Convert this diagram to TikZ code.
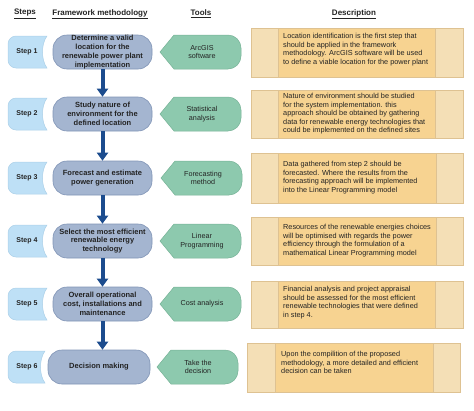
\documentclass[tikz,border=0pt]{standalone}
\usepackage{fontspec}
\setmainfont{Liberation Sans}
\usetikzlibrary{arrows.meta}
\definecolor{stepfill}{RGB}{190,224,246}
\definecolor{stepdraw}{RGB}{172,208,232}
\definecolor{fwfill}{RGB}{164,181,208}
\definecolor{fwdraw}{RGB}{128,148,182}
\definecolor{toolfill}{RGB}{141,201,174}
\definecolor{tooldraw}{RGB}{118,178,150}
\definecolor{descout}{RGB}{244,223,182}
\definecolor{descin}{RGB}{247,211,145}
\definecolor{descdraw}{RGB}{222,194,146}
\definecolor{arrowblue}{RGB}{28,76,142}
\definecolor{txt}{RGB}{35,35,35}
\tikzset{
  header/.style={font=\fontsize{8}{9}\selectfont\bfseries, text=txt, inner sep=0},
  steptab/.style={fill=stepfill, draw=stepdraw, line width=0.5pt},
  steplbl/.style={font=\fontsize{7}{8}\selectfont\bfseries, text=txt, inner sep=0},
  fwbox/.style={fill=fwfill, draw=fwdraw, line width=0.6pt, rounded corners=14pt,
    minimum width=99pt, minimum height=34pt, align=center, inner sep=0,
    font=\fontsize{7.5}{8.8}\selectfont\bfseries, text=txt},
  toolshape/.style={fill=toolfill, draw=tooldraw, line width=0.5pt},
  toollbl/.style={font=\fontsize{7.2}{8.6}\selectfont, text=txt, align=center, inner sep=0},
  descouter/.style={fill=descout, draw=descdraw, line width=0.5pt},
  descinner/.style={fill=descin, draw=descdraw, line width=0.5pt},
  desctext/.style={font=\fontsize{7.3}{8.6}\selectfont, text=txt, align=left,
    anchor=north west, inner sep=0},
  flow/.style={draw=arrowblue, line width=4pt, -{Triangle[width=11pt,length=8pt]}},
}
\begin{document}
\begin{tikzpicture}[x=1pt,y=-1pt]
\useasboundingbox (0,0) rectangle (474,410);
% headers
\node[header] (h1) at (25,14) {\underline{Steps}};
\node[header] (h2) at (100,14) {\underline{Framework methodology}};
\node[header] (h3) at (201,14) {\underline{Tools}};
\node[header] (h4) at (354,14) {\underline{Description}};
% step tabs
\foreach \c/\r/\xr in {52/1/47,114/2/47,178/3/47,241/4/47,304/5/47,367/6/45}{
  \draw[steptab] (16,\c-16) -- (\xr,\c-16) .. controls (\xr-6,\c-8) and (\xr-6,\c+8) .. (\xr,\c+16)
    -- (16,\c+16) arc[start angle=90,end angle=180,radius=8] -- (8,\c-8)
    arc[start angle=180,end angle=270,radius=8] -- cycle;
  \node[steplbl] (s\r) at (27,\c) {Step \r};
}
% tool shapes
\foreach \c/\a/\b in {52/160/241,114/160/241,178/161/242,241/160/241,304/160/241,367/157/238}{
  \draw[toolshape] (\a,\c) -- (\a+14,\c-17) -- (\b-13,\c-17)
    arc[start angle=-90,end angle=0,radius=13] -- (\b,\c+4)
    arc[start angle=0,end angle=90,radius=13] -- (\a+14,\c+17) -- cycle;
}
\node[toollbl] (t1) at (202,52) {ArcGIS\\software};
\node[toollbl] (t2) at (202,114) {Statistical\\analysis};
\node[toollbl] (t3) at (203,178) {Forecasting\\method};
\node[toollbl] (t4) at (202,241) {Linear\\Programming};
\node[toollbl] (t5) at (202,304) {Cost analysis};
\node[toollbl] (t6) at (198,367) {Take the\\decision};
% framework boxes
\node[fwbox] (f1) at (102.5,52) {Determine a valid\\location for the\\renewable power plant\\implementation};
\node[fwbox] (f2) at (102.5,114) {Study nature of\\environment for the\\defined location};
\node[fwbox] (f3) at (102.5,178) {Forecast and estimate\\power generation};
\node[fwbox] (f4) at (102.5,241) {Select the most efficient\\renewable energy\\technology};
\node[fwbox] (f5) at (102.5,304) {Overall operational\\cost, installations and\\maintenance};
\node[fwbox, minimum width=102pt] (f6) at (99,367) {Decision making};
% arrows
\draw[flow] (f1.south) -- (f2.north);
\draw[flow] (f2.south) -- (f3.north);
\draw[flow] (f3.south) -- (f4.north);
\draw[flow] (f4.south) -- (f5.north);
\draw[flow] (f5.south) -- (f5.south |- f6.north);
% description boxes
\foreach \t/\bt/\l/\il/\ir/\rr in {28/77/251/278/435/463,90/138/251/278/435/463,153/203/251/278/436/463,217/265/251/278/436/463,281/328/251/278/435/463,343/392/247/275/433/460}{
  \draw[descouter] (\l,\t) rectangle (\rr,\bt);
  \draw[descinner] (\il,\t) rectangle (\ir,\bt);
}
\node[desctext] (d1) at (283,33) {Location identification is the first step that\\should be applied in the framework\\methodology. ArcGIS software will be used\\to define a viable location for the power plant};
\node[desctext] (d2) at (283,93) {Nature of environment should be studied\\for the system implementation. this\\approach should be obtained by gathering\\data for renewable energy technologies that\\could be implemented on the defined sites};
\node[desctext] (d3) at (283,161) {Data gathered from step 2 should be\\forecasted. Where the results from the\\forecasting approach will be implemented\\into the Linear Programming model};
\node[desctext] (d4) at (283,224) {Resources of the renewable energies choices\\will be optimised with regards the power\\efficiency through the formulation of a\\mathematical Linear Programming model};
\node[desctext] (d5) at (283,286) {Financial analysis and project appraisal\\should be assessed for the most efficient\\renewable technologies that were defined\\in step 4.};
\node[desctext] (d6) at (281,351) {Upon the compilition of the proposed\\methodology, a more detailed and efficient\\decision can be taken};
\end{tikzpicture}
\end{document}
